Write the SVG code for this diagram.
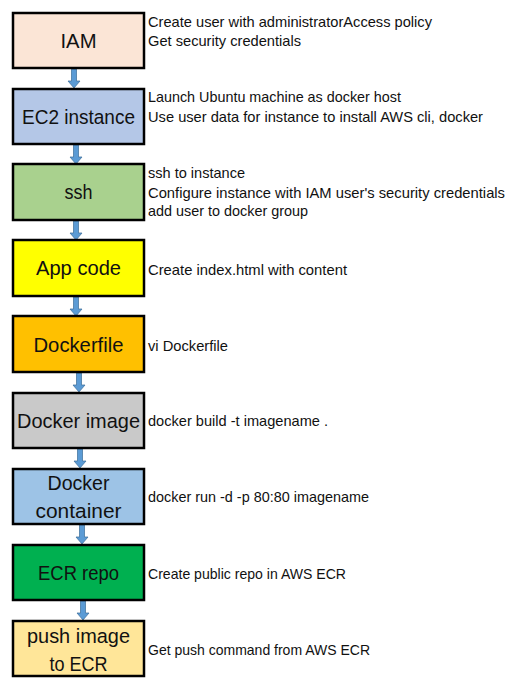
<svg xmlns="http://www.w3.org/2000/svg" xmlns:xlink="http://www.w3.org/1999/xlink" width="517" height="685" viewBox="0 0 517 685">
<style>
.box{stroke:#000;stroke-width:2.5}
.lbl{font-family:"Liberation Sans",Arial,sans-serif;font-size:20.5px;fill:#111;text-anchor:middle}
.note{font-family:"Liberation Sans",Arial,sans-serif;font-size:14.5px;fill:#111}
.arr{fill:#5B9BD5;stroke:#41719C;stroke-width:0.75}
</style>
<defs>
<path id="arrow" class="arr" d="M-2.5,0 H2.5 V12 H6 L0,19 L-6,12 H-2.5 Z"/>
</defs>
<rect width="517" height="685" fill="#fff"/>
<g id="connectors">
<use xlink:href="#arrow" x="74" y="69"/>
<use xlink:href="#arrow" x="76" y="145"/>
<use xlink:href="#arrow" x="76" y="221"/>
<use xlink:href="#arrow" x="76" y="297"/>
<use xlink:href="#arrow" x="79" y="373"/>
<use xlink:href="#arrow" x="80" y="449"/>
<use xlink:href="#arrow" x="82" y="525"/>
<use xlink:href="#arrow" x="83" y="601"/>
</g>
<g id="iam">
<rect class="box" x="13" y="13" width="131" height="55" fill="#FBE5D6"/>
<text class="lbl" x="78.5" y="48" textLength="36" lengthAdjust="spacingAndGlyphs">IAM</text>
<text class="note" x="148" y="27" textLength="284" lengthAdjust="spacingAndGlyphs">Create user with administratorAccess policy</text>
<text class="note" x="148" y="46" textLength="153" lengthAdjust="spacingAndGlyphs">Get security credentials</text>
</g>
<g id="ec2">
<rect class="box" x="13" y="89" width="131" height="55" fill="#B4C7E7"/>
<text class="lbl" x="78.5" y="124" textLength="113" lengthAdjust="spacingAndGlyphs">EC2 instance</text>
<text class="note" x="148" y="102" textLength="253" lengthAdjust="spacingAndGlyphs">Launch Ubuntu machine as docker host</text>
<text class="note" x="148" y="122" textLength="335" lengthAdjust="spacingAndGlyphs">Use user data for instance to install AWS cli, docker</text>
</g>
<g id="ssh">
<rect class="box" x="13" y="164" width="131" height="56" fill="#A9D18E"/>
<text class="lbl" x="78.5" y="199" textLength="28" lengthAdjust="spacingAndGlyphs">ssh</text>
<text class="note" x="148" y="178" textLength="97" lengthAdjust="spacingAndGlyphs">ssh to instance</text>
<text class="note" x="148" y="198" textLength="357" lengthAdjust="spacingAndGlyphs">Configure instance with IAM user's security credentials</text>
<text class="note" x="148" y="216" textLength="160" lengthAdjust="spacingAndGlyphs">add user to docker group</text>
</g>
<g id="appcode">
<rect class="box" x="13" y="240" width="131" height="56" fill="#FFFF00"/>
<text class="lbl" x="78.5" y="275" textLength="85" lengthAdjust="spacingAndGlyphs">App code</text>
<text class="note" x="148" y="275" textLength="199" lengthAdjust="spacingAndGlyphs">Create index.html with content</text>
</g>
<g id="dockerfile">
<rect class="box" x="13" y="316" width="131" height="56" fill="#FFC000"/>
<text class="lbl" x="78.5" y="351.5" textLength="90" lengthAdjust="spacingAndGlyphs">Dockerfile</text>
<text class="note" x="148" y="351" textLength="80" lengthAdjust="spacingAndGlyphs">vi Dockerfile</text>
</g>
<g id="dockerimage">
<rect class="box" x="13" y="393" width="131" height="55" fill="#C9C9C9"/>
<text class="lbl" x="78.5" y="427.5" textLength="123" lengthAdjust="spacingAndGlyphs">Docker image</text>
<text class="note" x="148" y="425.5" textLength="180" lengthAdjust="spacingAndGlyphs">docker build -t imagename .</text>
</g>
<g id="dockercontainer">
<rect class="box" x="13" y="469" width="131" height="55" fill="#9DC3E6"/>
<text class="lbl" x="78.5" y="490" textLength="62" lengthAdjust="spacingAndGlyphs">Docker</text>
<text class="lbl" x="78.5" y="518" textLength="86" lengthAdjust="spacingAndGlyphs">container</text>
<text class="note" x="148" y="502" textLength="221" lengthAdjust="spacingAndGlyphs">docker run -d -p 80:80 imagename</text>
</g>
<g id="ecrrepo">
<rect class="box" x="13" y="545" width="131" height="55" fill="#00B050"/>
<text class="lbl" x="78.5" y="579.5" textLength="81" lengthAdjust="spacingAndGlyphs">ECR repo</text>
<text class="note" x="148" y="579" textLength="198" lengthAdjust="spacingAndGlyphs">Create public repo in AWS ECR</text>
</g>
<g id="pushimage">
<rect class="box" x="13" y="621" width="131" height="55" fill="#FFE699"/>
<text class="lbl" x="78.5" y="642.5" textLength="103" lengthAdjust="spacingAndGlyphs">push image</text>
<text class="lbl" x="78.5" y="670.5" textLength="58" lengthAdjust="spacingAndGlyphs">to ECR</text>
<text class="note" x="148" y="655" textLength="222" lengthAdjust="spacingAndGlyphs">Get push command from AWS ECR</text>
</g>
</svg>
